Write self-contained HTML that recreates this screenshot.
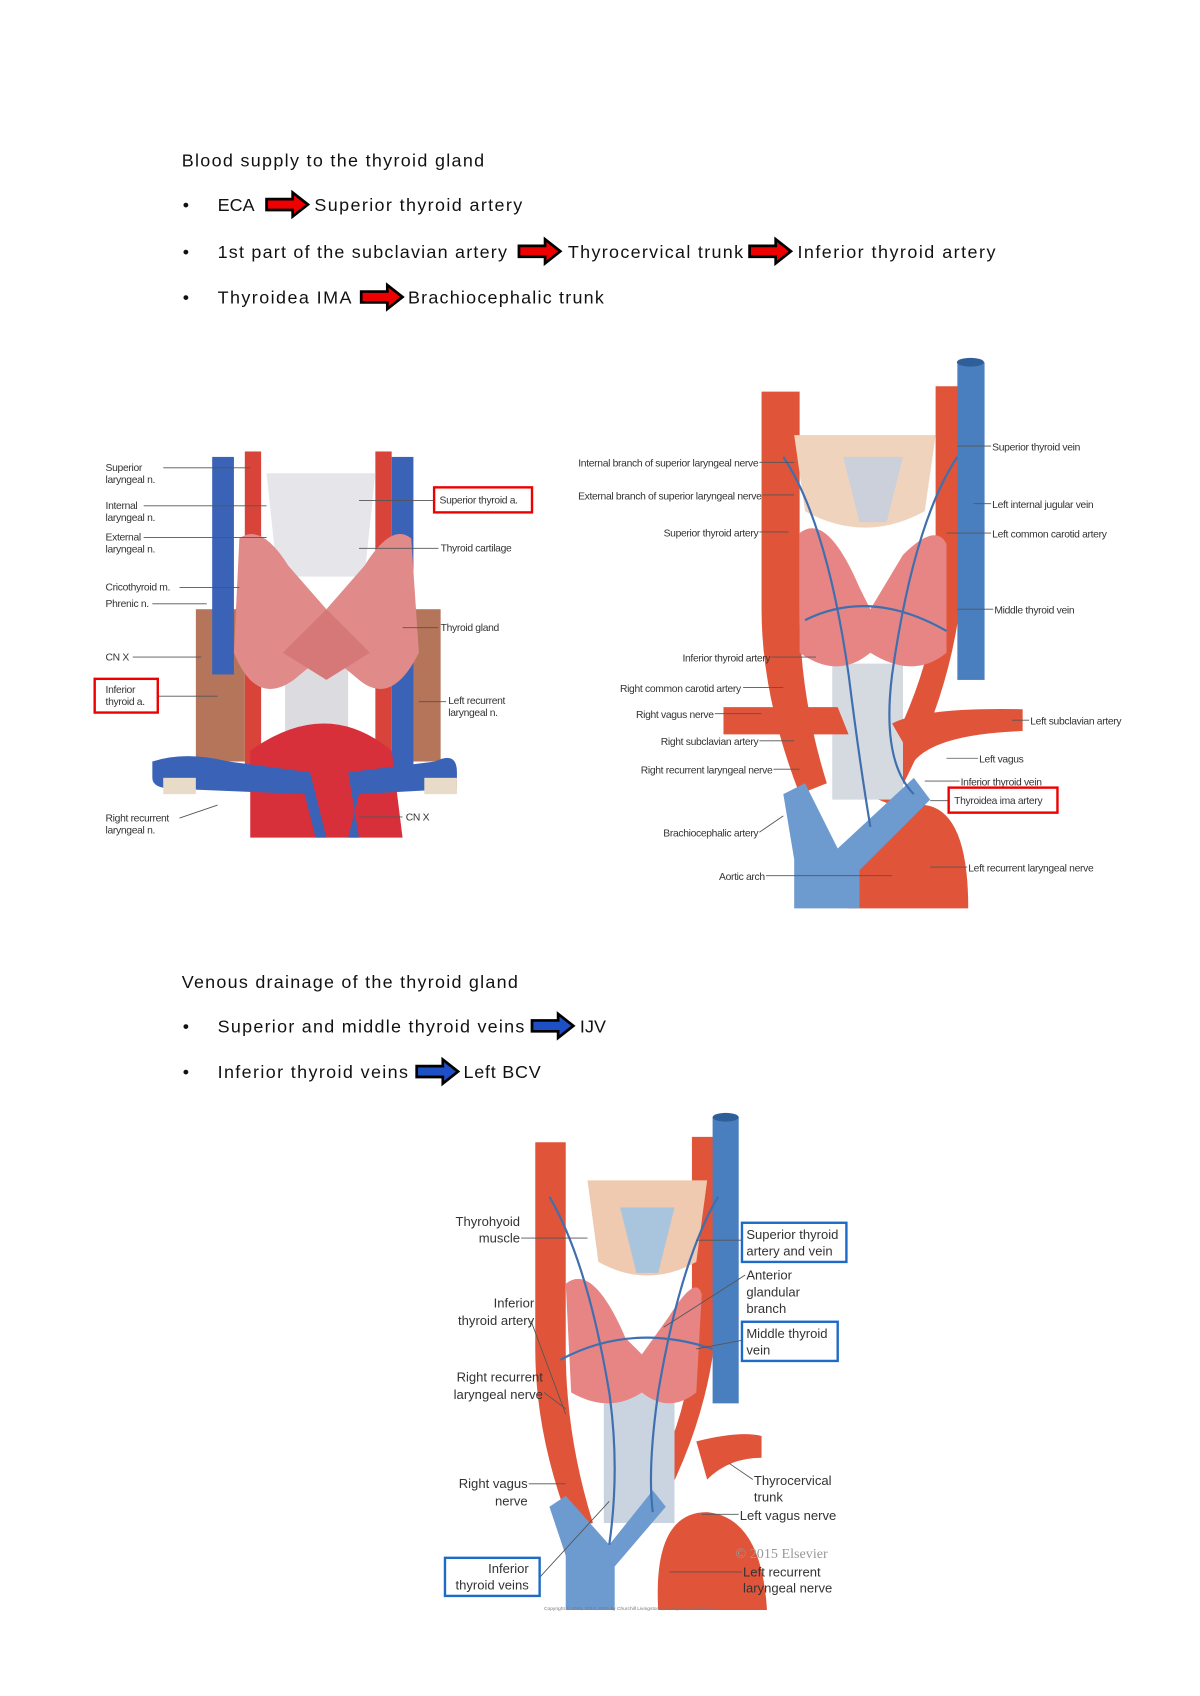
<!DOCTYPE html>
<html><head><meta charset="utf-8"><style>
html,body{margin:0;padding:0;background:#fff}
svg{display:block}
.h{font-family:"Liberation Sans",sans-serif;font-size:16.5px;fill:#111}
.l{font-family:"Liberation Sans",sans-serif;font-size:9.5px;fill:#333;letter-spacing:-0.3px}
.m{font-family:"Liberation Sans",sans-serif;font-size:12px;fill:#333}
</style></head><body>
<svg width="1200" height="1696" viewBox="0 0 1103 1559" xmlns="http://www.w3.org/2000/svg">
<defs>
<g id="ra"><path d="M0,-5 H24 V-11 L38,0 L24,11 V5 H0 Z" fill="#e00" stroke="#000" stroke-width="2.5"/></g>
<g id="ba"><path d="M0,-5 H24 V-11 L38,0 L24,11 V5 H0 Z" fill="#1f4fc4" stroke="#000" stroke-width="2.5"/></g>
</defs>
<!-- Text block 1 -->
<text class="h" x="167" y="153" textLength="278" lengthAdjust="spacing">Blood supply to the thyroid gland</text>
<text class="h" x="168" y="194">•</text><text class="h" x="200" y="194" textLength="34" lengthAdjust="spacing">ECA</text>
<use href="#ra" x="245" y="188"/><text class="h" x="289" y="194" textLength="191" lengthAdjust="spacing">Superior thyroid artery</text>
<text class="h" x="168" y="237">•</text><text class="h" x="200" y="237" textLength="266" lengthAdjust="spacing">1st part of the subclavian artery</text>
<use href="#ra" x="477" y="231"/><text class="h" x="522" y="237" textLength="161" lengthAdjust="spacing">Thyrocervical trunk</text>
<use href="#ra" x="689" y="231"/><text class="h" x="733" y="237" textLength="182" lengthAdjust="spacing">Inferior thyroid artery</text>
<text class="h" x="168" y="279">•</text><text class="h" x="200" y="279" textLength="123" lengthAdjust="spacing">Thyroidea IMA</text>
<use href="#ra" x="332" y="273"/><text class="h" x="375" y="279" textLength="180" lengthAdjust="spacing">Brachiocephalic trunk</text>

<!-- Figure 1 -->
<g>
<rect x="180" y="560" width="45" height="140" fill="#b5755a"/>
<rect x="365" y="560" width="40" height="140" fill="#b5755a"/>
<rect x="225" y="415" width="15" height="290" fill="#d9443a"/>
<rect x="345" y="415" width="15" height="290" fill="#d9443a"/>
<rect x="195" y="420" width="20" height="200" fill="#3a63b8"/>
<rect x="360" y="420" width="20" height="290" fill="#3a63b8"/>
<path d="M245,435 H345 L335,530 H255 Z" fill="#e6e6ea"/>
<rect x="262" y="600" width="58" height="100" fill="#dcdce0"/>
<path d="M220,495 Q240,480 265,520 L300,560 L335,520 Q360,480 378,495 L385,600 Q360,650 330,625 L300,600 L270,625 Q235,650 215,600 Z" fill="#e08a8a"/>
<path d="M260,600 L300,560 L340,600 L300,625 Z" fill="#d77878"/>
<path d="M230,690 Q300,640 360,690 L370,770 H230 Z" fill="#d8303a"/>
<path d="M140,700 Q170,690 210,700 L285,710 L300,770 H330 L320,710 L400,700 Q420,690 420,710 L420,725 L330,730 L320,770 H290 L280,730 L160,725 Q140,725 140,715 Z" fill="#3a63b8"/>
<rect x="150" y="715" width="30" height="15" fill="#e8dcc8"/>
<rect x="390" y="715" width="30" height="15" fill="#e8dcc8"/>
</g>
<g stroke="#555" stroke-width="0.8">
<line x1="150" y1="430" x2="230" y2="430"/><line x1="132" y1="465" x2="245" y2="465"/>
<line x1="132" y1="494" x2="245" y2="494"/><line x1="165" y1="540" x2="220" y2="540"/>
<line x1="140" y1="555" x2="190" y2="555"/><line x1="122" y1="604" x2="185" y2="604"/>
<line x1="145" y1="640" x2="200" y2="640"/><line x1="165" y1="752" x2="200" y2="740"/>
<line x1="330" y1="460" x2="399" y2="460"/><line x1="330" y1="504" x2="403" y2="504"/>
<line x1="370" y1="577" x2="403" y2="577"/><line x1="385" y1="645" x2="410" y2="645"/>
<line x1="330" y1="751" x2="370" y2="751"/>
</g>
<text class="l" x="97" y="433">Superior</text><text class="l" x="97" y="444">laryngeal n.</text>
<text class="l" x="97" y="468">Internal</text><text class="l" x="97" y="479">laryngeal n.</text>
<text class="l" x="97" y="497">External</text><text class="l" x="97" y="508">laryngeal n.</text>
<text class="l" x="97" y="543">Cricothyroid m.</text><text class="l" x="97" y="558">Phrenic n.</text>
<text class="l" x="97" y="607">CN X</text>
<rect x="87" y="624" width="58" height="31" fill="none" stroke="#e00" stroke-width="2.2"/>
<text class="l" x="97" y="637">Inferior</text><text class="l" x="97" y="648">thyroid a.</text>
<text class="l" x="97" y="755">Right recurrent</text><text class="l" x="97" y="766">laryngeal n.</text>
<rect x="399" y="448" width="90" height="23" fill="none" stroke="#e00" stroke-width="2.2"/>
<text class="l" x="404" y="463">Superior thyroid a.</text>
<text class="l" x="405" y="507">Thyroid cartilage</text>
<text class="l" x="405" y="580">Thyroid gland</text>
<text class="l" x="412" y="647">Left recurrent</text><text class="l" x="412" y="658">laryngeal n.</text>
<text class="l" x="373" y="754">CN X</text>

<!-- Figure 2 -->
<g>
<path d="M700,360 H735 V560 Q735,640 760,720 L735,730 Q700,640 700,560 Z" fill="#e0553a"/>
<path d="M860,355 H882 V560 Q870,650 820,740 L795,730 Q850,640 860,560 Z" fill="#e0553a"/>
<rect x="880" y="333" width="25" height="292" fill="#4a7fbf"/>
<ellipse cx="892" cy="333" rx="12.5" ry="4" fill="#2e5f99"/>
<path d="M730,400 H860 L850,470 Q795,500 740,470 Z" fill="#efd3bd"/>
<path d="M775,420 H830 L815,480 H790 Z" fill="#cbd0da"/>
<rect x="765" y="610" width="65" height="125" fill="#d5d9e0"/>
<path d="M735,490 Q760,470 790,540 L800,560 L830,510 Q860,480 870,500 L870,600 Q840,625 800,600 Q770,625 735,600 Z" fill="#e78585"/>
<path d="M665,650 H770 L780,675 H665 Z" fill="#e0553a"/>
<path d="M820,665 Q850,650 940,652 V672 Q860,675 840,700 Z" fill="#e0553a"/>
<path d="M780,835 Q780,740 850,740 Q890,745 890,835 Z" fill="#e0553a"/>
<path d="M720,730 L740,720 L770,780 L840,715 L855,735 L790,800 V835 H730 V790 Z" fill="#6d9bd0"/>
<g stroke="#3f6fae" stroke-width="2" fill="none">
<path d="M720,420 Q760,480 780,620 Q790,700 800,760"/>
<path d="M880,420 Q840,480 820,620 Q810,700 840,730"/>
<path d="M740,570 Q800,540 870,580"/></g>
</g>
<g stroke="#555" stroke-width="0.8">
<line x1="698" y1="425" x2="730" y2="425"/><line x1="701" y1="455" x2="730" y2="455"/>
<line x1="698" y1="489" x2="725" y2="489"/><line x1="709" y1="604" x2="750" y2="604"/>
<line x1="683" y1="632" x2="720" y2="632"/><line x1="657" y1="656" x2="700" y2="656"/>
<line x1="698" y1="681" x2="730" y2="681"/><line x1="711" y1="707" x2="735" y2="707"/>
<line x1="698" y1="765" x2="720" y2="750"/><line x1="704" y1="805" x2="820" y2="805"/>
<line x1="880" y1="410" x2="911" y2="410"/><line x1="895" y1="463" x2="911" y2="463"/>
<line x1="870" y1="490" x2="911" y2="490"/><line x1="880" y1="560" x2="913" y2="560"/>
<line x1="930" y1="662" x2="946" y2="662"/><line x1="870" y1="697" x2="899" y2="697"/>
<line x1="850" y1="718" x2="882" y2="718"/><line x1="855" y1="736" x2="872" y2="736"/>
<line x1="855" y1="797" x2="889" y2="797"/>
</g>
<g text-anchor="end">
<text class="l" x="697" y="429">Internal branch of superior laryngeal nerve</text>
<text class="l" x="700" y="459">External branch of superior laryngeal nerve</text>
<text class="l" x="697" y="493">Superior thyroid artery</text>
<text class="l" x="708" y="608">Inferior thyroid artery</text>
<text class="l" x="681" y="636">Right common carotid artery</text>
<text class="l" x="656" y="660">Right vagus nerve</text>
<text class="l" x="697" y="685">Right subclavian artery</text>
<text class="l" x="710" y="711">Right recurrent laryngeal nerve</text>
<text class="l" x="697" y="769">Brachiocephalic artery</text>
<text class="l" x="703" y="809">Aortic arch</text>
</g>
<text class="l" x="912" y="414">Superior thyroid vein</text>
<text class="l" x="912" y="467">Left internal jugular vein</text>
<text class="l" x="912" y="494">Left common carotid artery</text>
<text class="l" x="914" y="564">Middle thyroid vein</text>
<text class="l" x="947" y="666">Left subclavian artery</text>
<text class="l" x="900" y="701">Left vagus</text>
<text class="l" x="883" y="722">Inferior thyroid vein</text>
<rect x="872" y="724" width="100" height="23" fill="#fff" stroke="#e00" stroke-width="2.2"/>
<text class="l" x="877" y="739">Thyroidea ima artery</text>
<text class="l" x="890" y="801">Left recurrent laryngeal nerve</text>

<!-- Text block 2 -->
<text class="h" x="167" y="908" textLength="309" lengthAdjust="spacing">Venous drainage of the thyroid gland</text>
<text class="h" x="168" y="949">•</text><text class="h" x="200" y="949" textLength="282" lengthAdjust="spacing">Superior and middle thyroid veins</text>
<use href="#ba" x="489" y="943"/><text class="h" x="533" y="949" textLength="24" lengthAdjust="spacing">IJV</text>
<text class="h" x="168" y="991">•</text><text class="h" x="200" y="991" textLength="175" lengthAdjust="spacing">Inferior thyroid veins</text>
<use href="#ba" x="383" y="985"/><text class="h" x="426" y="991" textLength="71" lengthAdjust="spacing">Left BCV</text>

<!-- Figure 3 -->
<g>
<path d="M492,1050 H520 V1240 Q520,1320 545,1400 L525,1405 Q492,1320 492,1240 Z" fill="#e0553a"/>
<path d="M636,1045 H656 V1240 Q645,1320 600,1400 L580,1395 Q630,1320 636,1240 Z" fill="#e0553a"/>
<rect x="655" y="1027" width="24" height="263" fill="#4a7fbf"/>
<ellipse cx="667" cy="1027" rx="12" ry="4" fill="#2e5f99"/>
<path d="M540,1085 H650 L640,1160 Q595,1185 550,1160 Z" fill="#efc9b0"/>
<path d="M570,1110 H620 L605,1170 H585 Z" fill="#a9c4dd"/>
<rect x="555" y="1270" width="65" height="130" fill="#c9d4e0"/>
<path d="M520,1180 Q545,1160 575,1230 L590,1245 L615,1210 Q640,1170 645,1190 L640,1280 Q615,1300 590,1280 Q560,1300 525,1280 Z" fill="#e78585"/>
<path d="M640,1325 Q680,1315 700,1320 V1340 Q670,1340 650,1360 Z" fill="#e0553a"/>
<path d="M605,1480 Q600,1390 650,1390 Q700,1395 705,1480 Z" fill="#e0553a"/>
<path d="M505,1385 L520,1375 L560,1420 L600,1370 L612,1385 L565,1440 V1480 H520 V1430 Z" fill="#6d9bd0"/>
<g stroke="#3f6fae" stroke-width="2" fill="none">
<path d="M505,1100 Q540,1160 560,1280 Q570,1350 560,1420"/>
<path d="M660,1100 Q625,1160 605,1280 Q595,1350 600,1390"/>
<path d="M515,1250 Q580,1215 655,1240"/></g>
</g>
<g stroke="#555" stroke-width="0.8">
<line x1="479" y1="1138" x2="540" y2="1138"/><line x1="488" y1="1214" x2="520" y2="1300"/>
<line x1="500" y1="1280" x2="520" y2="1295"/><line x1="486" y1="1364" x2="520" y2="1364"/>
<line x1="496" y1="1450" x2="560" y2="1380"/><line x1="640" y1="1140" x2="682" y2="1140"/>
<line x1="610" y1="1220" x2="685" y2="1172"/><line x1="640" y1="1240" x2="682" y2="1232"/>
<line x1="670" y1="1345" x2="692" y2="1360"/><line x1="645" y1="1392" x2="679" y2="1392"/>
<line x1="615" y1="1445" x2="682" y2="1445"/>
</g>
<g text-anchor="end">
<text class="m" x="478" y="1127">Thyrohyoid</text><text class="m" x="478" y="1142">muscle</text>
<text class="m" x="491" y="1202">Inferior</text><text class="m" x="491" y="1218">thyroid artery</text>
<text class="m" x="499" y="1270">Right recurrent</text><text class="m" x="499" y="1286">laryngeal nerve</text>
<text class="m" x="485" y="1368">Right vagus</text><text class="m" x="485" y="1384">nerve</text>
<text class="m" x="486" y="1446">Inferior</text><text class="m" x="486" y="1461">thyroid veins</text>
</g>
<rect x="409" y="1432" width="87" height="35" fill="none" stroke="#1e6ac8" stroke-width="2.2"/>
<rect x="682" y="1124" width="96" height="36" fill="#fff" stroke="#1e6ac8" stroke-width="2.2"/>
<text class="m" x="686" y="1139">Superior thyroid</text><text class="m" x="686" y="1154">artery and vein</text>
<text class="m" x="686" y="1176">Anterior</text><text class="m" x="686" y="1192">glandular</text><text class="m" x="686" y="1207">branch</text>
<rect x="682" y="1215" width="88" height="36" fill="#fff" stroke="#1e6ac8" stroke-width="2.2"/>
<text class="m" x="686" y="1230">Middle thyroid</text><text class="m" x="686" y="1245">vein</text>
<text class="m" x="693" y="1365">Thyrocervical</text><text class="m" x="693" y="1380">trunk</text>
<text class="m" x="680" y="1397">Left vagus nerve</text>
<text x="676" y="1432" font-family="Liberation Serif,serif" font-size="13" fill="#999">© 2015 Elsevier</text>
<text class="m" x="683" y="1449">Left recurrent</text><text class="m" x="683" y="1464">laryngeal nerve</text>
<text x="500" y="1480" font-family="Liberation Sans,sans-serif" font-size="4.5" fill="#777">Copyright © 2015, 2010, 2005 by Churchill Livingstone, an imprint of Elsevier Inc.</text>
</svg>
</body></html>
